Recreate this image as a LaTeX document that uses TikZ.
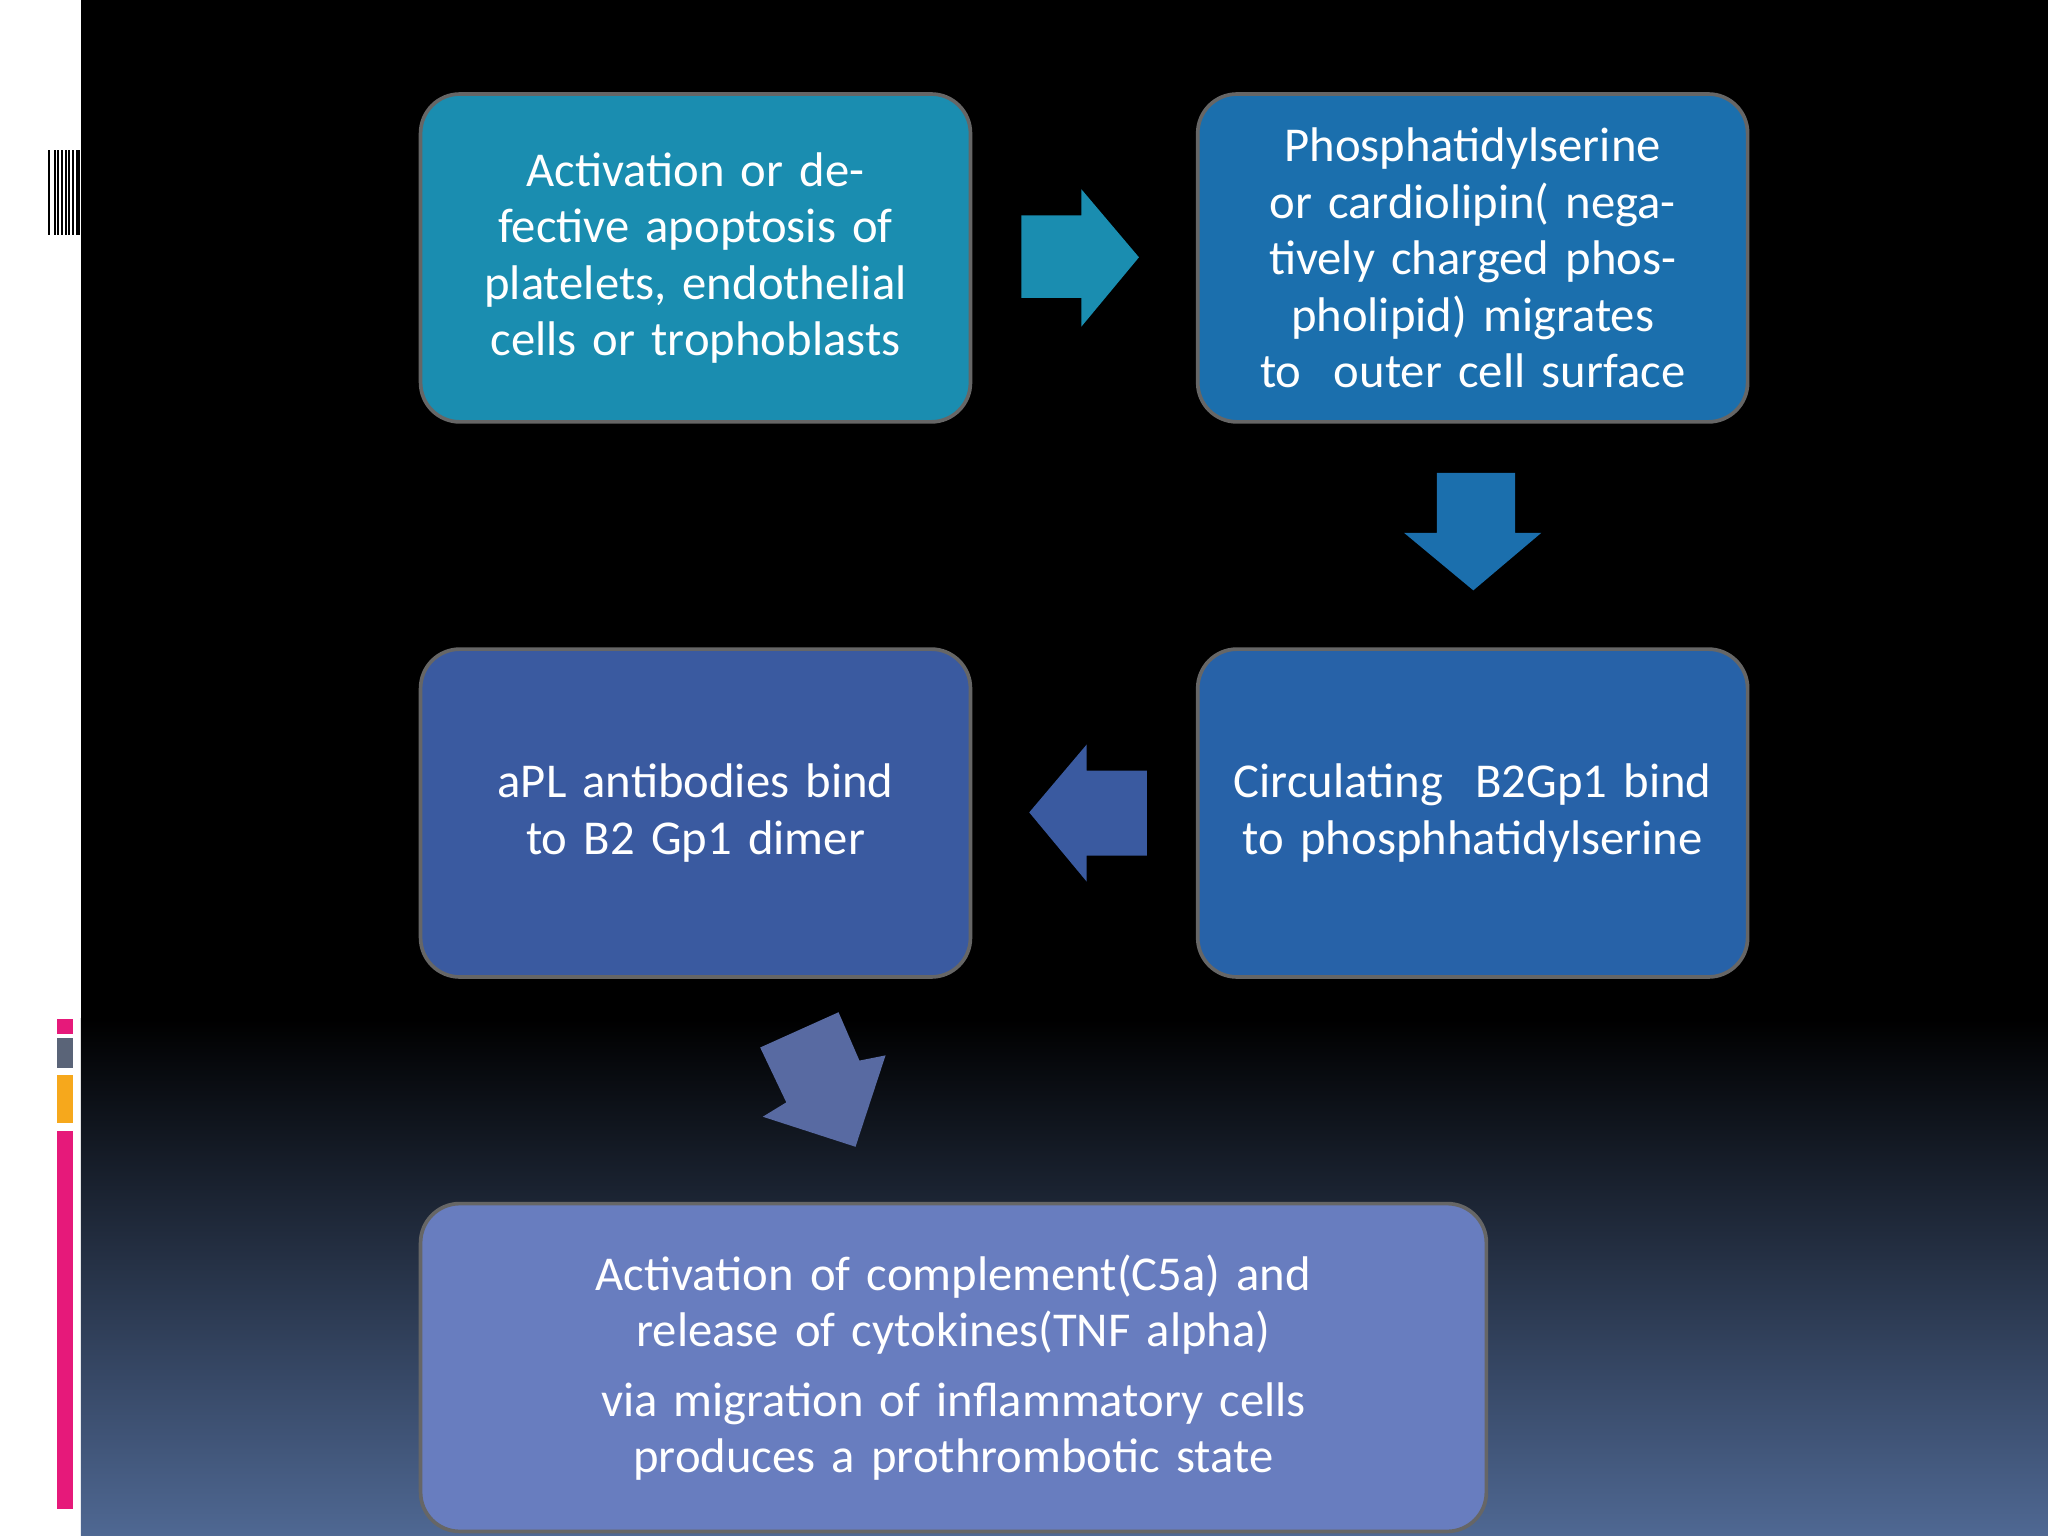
\documentclass[tikz,border=0pt]{standalone}
\usepackage{fontspec}
\setmainfont{Carlito}
\usetikzlibrary{positioning}
\definecolor{boxA}{HTML}{1A8DB0}
\definecolor{boxB}{HTML}{1B6FAD}
\definecolor{boxC}{HTML}{2762A8}
\definecolor{boxD}{HTML}{3A5AA0}
\definecolor{boxE}{HTML}{687DBF}
\definecolor{bgbot}{HTML}{4F6893}
\definecolor{pinkbar}{HTML}{E6197A}
\definecolor{orangebar}{HTML}{F6A81C}
\definecolor{graybar}{HTML}{5A6478}
\begin{document}
\begin{tikzpicture}[>=latex]
	\tikzstyle{stage}=[rectangle, rounded corners=3mm, minimum width=4.21cm, minimum height=2.51cm, text width=3.9cm, align=center, text=white, font=\fontsize{10.6}{12.3}\selectfont, draw=black!60, thick]
	
	% background
	\fill[white] (0,0) rectangle (15.68,-11.76);
	\fill[black] (0.62,0) rectangle (15.68,-7.8);
	\shade[top color=black, bottom color=bgbot] (0.62,-7.8) rectangle (15.68,-11.76);
	\useasboundingbox (0,0) rectangle (15.68,-11.76);
	
	% side marks
	\foreach \x in {0.37,0.41,0.44,0.47,0.50,0.52,0.55,0.58,0.60}
		\fill[black] (\x,-1.15) rectangle +(0.015,-0.65);
	\fill[pinkbar] (0.44,-7.80) rectangle (0.56,-7.92);
	\fill[graybar] (0.44,-7.95) rectangle (0.56,-8.18);
	\fill[orangebar] (0.44,-8.23) rectangle (0.56,-8.60);
	\fill[pinkbar] (0.44,-8.66) rectangle (0.56,-11.55);
	
	\node[stage, fill=boxA] (act) at (5.325,-1.975) {Activation or defective apoptosis of platelets, endothelial cells or trophoblasts};
	\node[stage, fill=boxB] (phos) at (11.275,-1.975) {Phosphatidylserine or cardiolipin( negatively charged phospholipid) migrates to~ outer cell surface};
	\node[stage, fill=boxC] (circ) at (11.275,-6.225) {Circulating~ B2Gp1 bind to phosphhatidylserine};
	\node[stage, fill=boxD] (apl) at (5.325,-6.225) {aPL antibodies bind to B2 Gp1 dimer};
	\node[stage, fill=boxE, minimum width=8.16cm, text width=7.9cm] (comp) at (7.30,-10.47) {Activation of complement(C5a) and release of cytokines(TNF alpha)\\[1mm] via migration of inflammatory cells produces a prothrombotic state};
	
	% block arrows
	\fill[boxA] (7.82,-1.65) -- (8.28,-1.65) -- (8.28,-1.45) -- (8.72,-1.97) -- (8.28,-2.50) -- (8.28,-2.28) -- (7.82,-2.28) -- cycle;
	\fill[boxB] (11.00,-3.62) -- (11.60,-3.62) -- (11.60,-4.08) -- (11.80,-4.08) -- (11.28,-4.52) -- (10.75,-4.08) -- (11.00,-4.08) -- cycle;
	\fill[boxD] (8.78,-5.90) -- (8.32,-5.90) -- (8.32,-5.70) -- (7.88,-6.22) -- (8.32,-6.75) -- (8.32,-6.55) -- (8.78,-6.55) -- cycle;
	\fill[boxE!85!black] (5.82,-8.02) -- (6.42,-7.75) -- (6.58,-8.12) -- (6.78,-8.08) -- (6.55,-8.78) -- (5.84,-8.55) -- (6.02,-8.44) -- cycle;
\end{tikzpicture}
\end{document}
